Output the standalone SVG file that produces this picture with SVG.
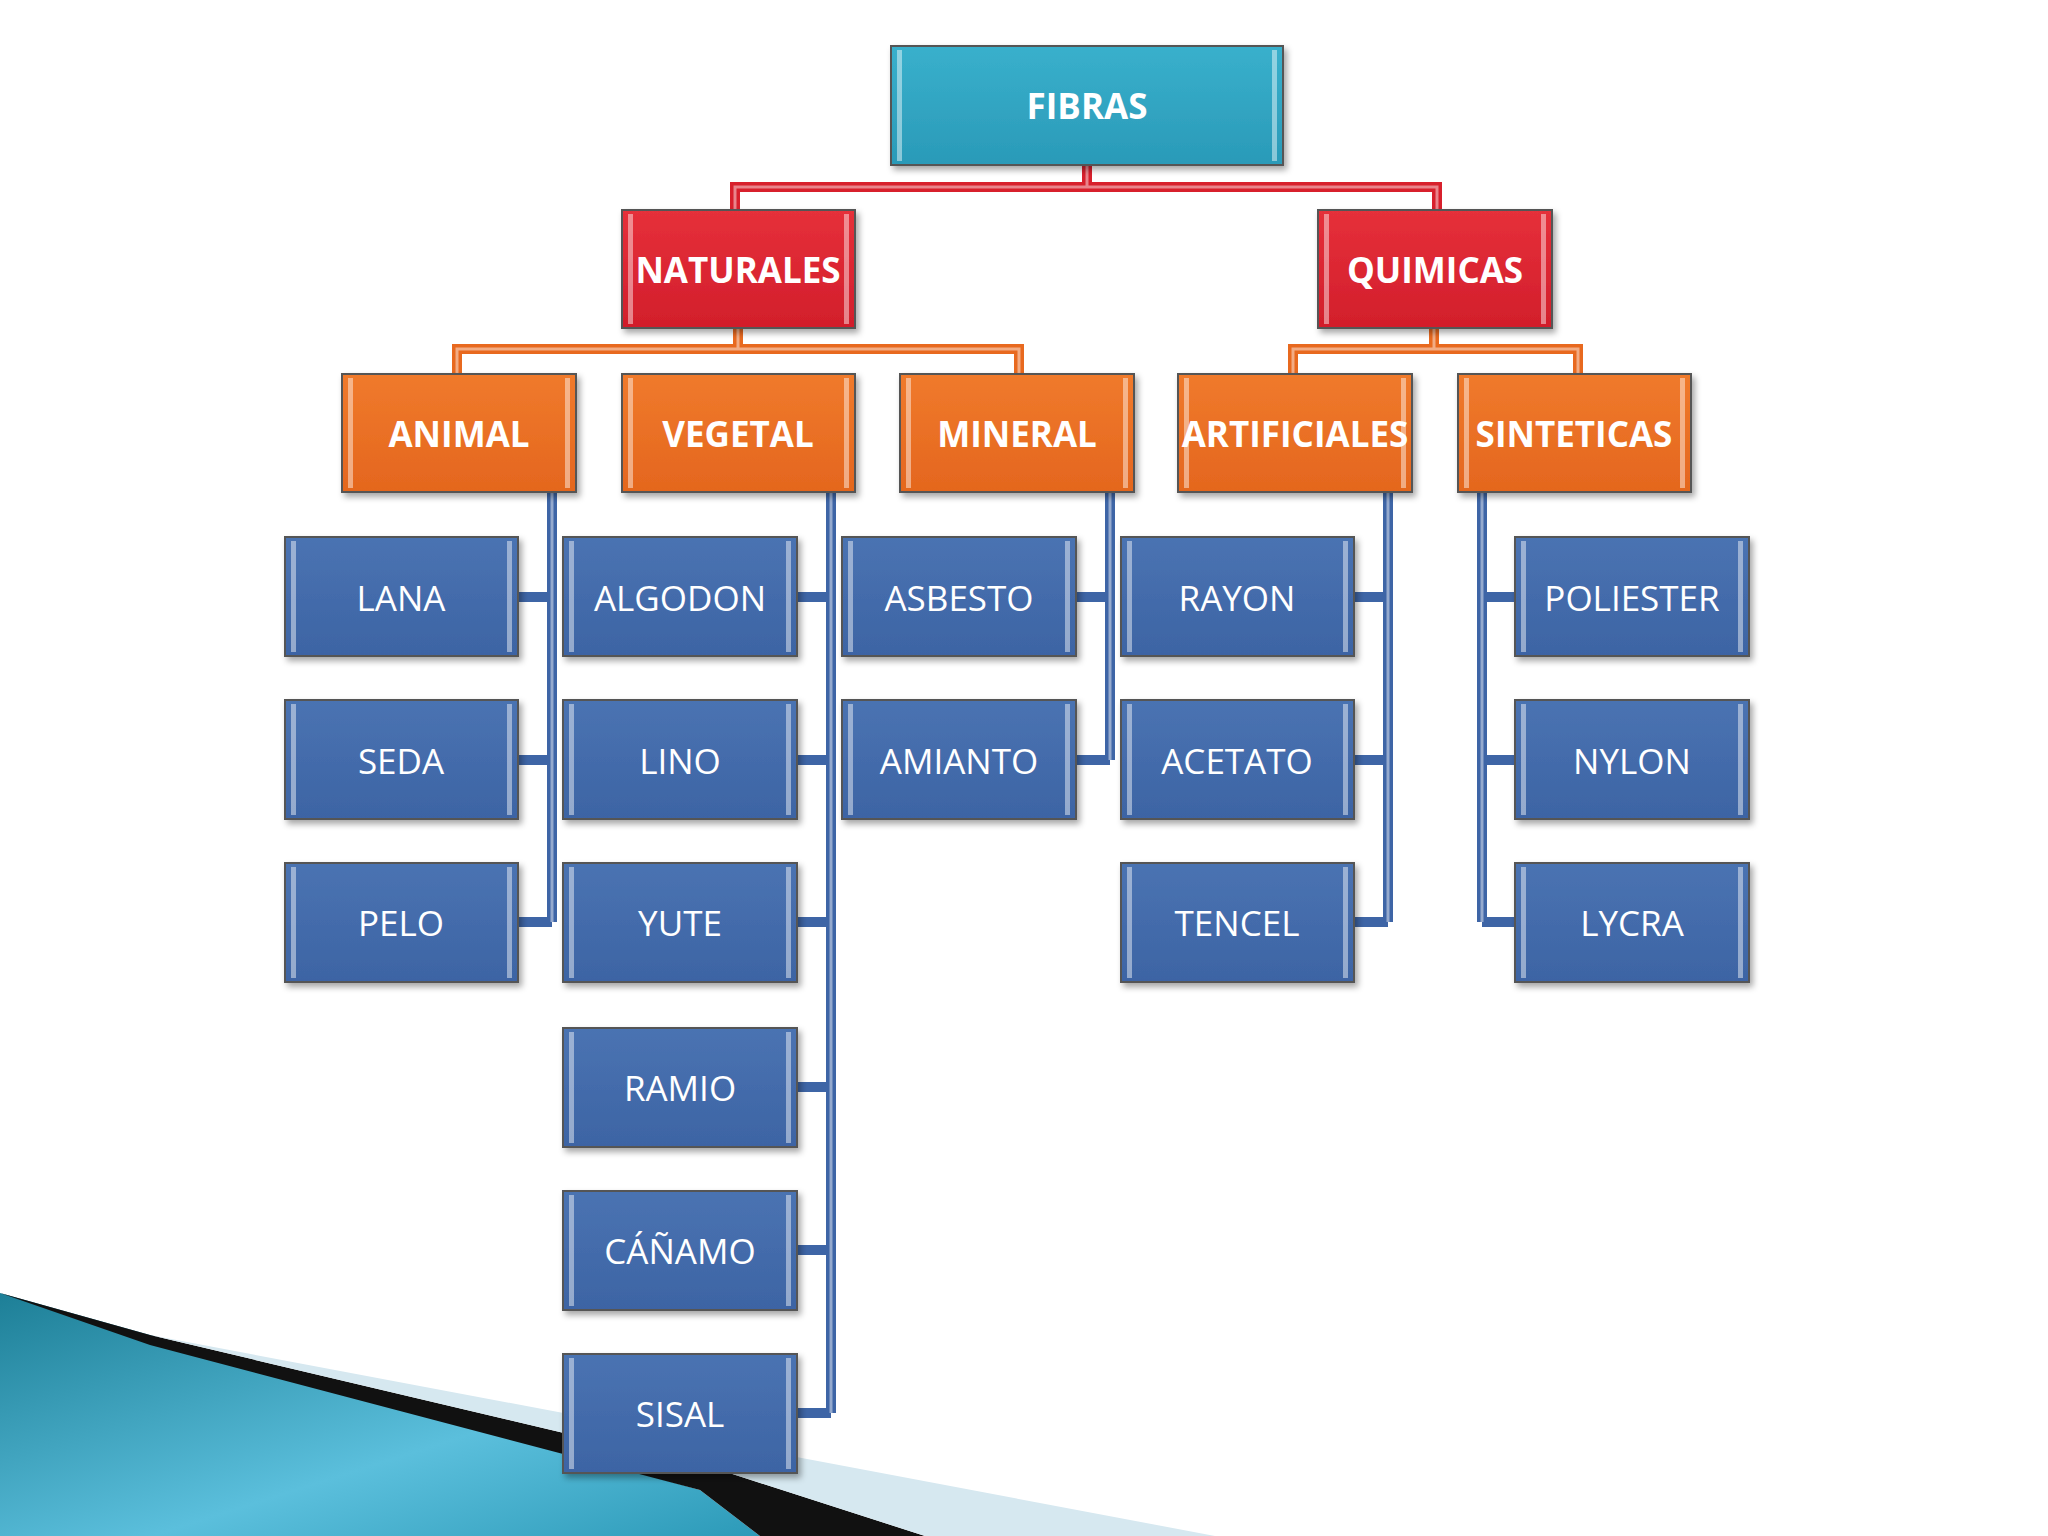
<svg xmlns="http://www.w3.org/2000/svg" width="2048" height="1536" viewBox="0 0 2048 1536">
<defs>
<linearGradient id="teal" x1="0" y1="0" x2="0" y2="1"><stop offset="0" stop-color="#39b0cc"/><stop offset="1" stop-color="#2a9ab8"/></linearGradient>
<linearGradient id="red" x1="0" y1="0" x2="0" y2="1"><stop offset="0" stop-color="#e6303a"/><stop offset="1" stop-color="#d21e2b"/></linearGradient>
<linearGradient id="orange" x1="0" y1="0" x2="0" y2="1"><stop offset="0" stop-color="#f07a2c"/><stop offset="1" stop-color="#e4661e"/></linearGradient>
<linearGradient id="blue" x1="0" y1="0" x2="0" y2="1"><stop offset="0" stop-color="#4a73b2"/><stop offset="1" stop-color="#3d64a4"/></linearGradient>
<linearGradient id="deco" x1="0" y1="0" x2="1" y2="1"><stop offset="0" stop-color="#1d7f97"/><stop offset="0.6" stop-color="#5bbfdc"/><stop offset="1" stop-color="#2c9ab8"/></linearGradient>
<filter id="sh" x="-10%" y="-10%" width="130%" height="130%"><feDropShadow dx="3" dy="4" stdDeviation="3" flood-color="#000" flood-opacity="0.35"/></filter>
</defs>
<style>
text{font-family:"Open Sans","Liberation Sans",sans-serif;font-size:35px;fill:#fff;text-anchor:middle;dominant-baseline:central}
.b{font-weight:bold}
.box{stroke:#555;stroke-width:2;filter:url(#sh)}
.hl{fill:#fff;opacity:0.45}
.cr{fill:none;stroke:#d8202c;stroke-width:10}
.co{fill:none;stroke:#e8691f;stroke-width:10}
.cb{fill:none;stroke:#3e65a6;stroke-width:10}
.in{fill:none;stroke:#fff;stroke-opacity:0.45;stroke-width:3}
</style>
<rect width="2048" height="1536" fill="#fff"/>
<g id="deco">
<polygon points="0,1293 150,1335 700,1490 760,1536 0,1536" fill="url(#deco)"/>
<polygon points="0,1293 150,1335 720,1470 925,1536 760,1536 700,1490 150,1345" fill="#111"/>
<polygon points="150,1335 1215,1536 925,1536 720,1470" fill="#d6e8f0"/>
</g>
<g id="connectors">
<path class="cr" d="M1087,165 V187 M735,210 V187 H1437 V210"/>
<path class="in" d="M1087,165 V187 M735,210 V187 H1437 V210"/>
<path class="co" d="M738,328 V349 M457,374 V349 H1019 V374 M1434,328 V349 M1293,374 V349 H1578 V374"/>
<path class="in" d="M738,328 V349 M457,374 V349 H1019 V374 M1434,328 V349 M1293,374 V349 H1578 V374"/>
<path class="cb" d="M552,492 V922 M518,597 H552 M518,760 H552 M518,922 H552
M831,492 V1413 M797,597 H831 M797,760 H831 M797,922 H831 M797,1087 H831 M797,1250 H831 M797,1413 H831
M1110,492 V760 M1076,597 H1110 M1076,760 H1110
M1388,492 V922 M1354,597 H1388 M1354,760 H1388 M1354,922 H1388
M1482,492 V922 M1482,597 H1515 M1482,760 H1515 M1482,922 H1515"/>
<path class="in" d="M552,492 V922 M831,492 V1413 M1110,492 V760 M1388,492 V922 M1482,492 V922"/>
</g>
<g id="fibras"><rect class="box" x="891" y="46" width="392" height="119" fill="url(#teal)"/><rect class="hl" x="897" y="50" width="5" height="111"/><rect class="hl" x="1272" y="50" width="5" height="111"/><text class="b" x="1087" y="105">FIBRAS</text></g>
<g id="naturales"><rect class="box" x="622" y="210" width="233" height="118" fill="url(#red)"/><rect class="hl" x="628" y="214" width="5" height="110"/><rect class="hl" x="844" y="214" width="5" height="110"/><text class="b" x="738" y="269">NATURALES</text></g>
<g id="quimicas"><rect class="box" x="1318" y="210" width="234" height="118" fill="url(#red)"/><rect class="hl" x="1324" y="214" width="5" height="110"/><rect class="hl" x="1541" y="214" width="5" height="110"/><text class="b" x="1435" y="269">QUIMICAS</text></g>
<g id="animal"><rect class="box" x="342" y="374" width="234" height="118" fill="url(#orange)"/><rect class="hl" x="348" y="378" width="5" height="110"/><rect class="hl" x="565" y="378" width="5" height="110"/><text class="b" x="459" y="433">ANIMAL</text></g>
<g id="vegetal"><rect class="box" x="622" y="374" width="233" height="118" fill="url(#orange)"/><rect class="hl" x="628" y="378" width="5" height="110"/><rect class="hl" x="844" y="378" width="5" height="110"/><text class="b" x="738" y="433">VEGETAL</text></g>
<g id="mineral"><rect class="box" x="900" y="374" width="234" height="118" fill="url(#orange)"/><rect class="hl" x="906" y="378" width="5" height="110"/><rect class="hl" x="1123" y="378" width="5" height="110"/><text class="b" x="1017" y="433">MINERAL</text></g>
<g id="artificiales"><rect class="box" x="1178" y="374" width="234" height="118" fill="url(#orange)"/><rect class="hl" x="1184" y="378" width="5" height="110"/><rect class="hl" x="1401" y="378" width="5" height="110"/><text class="b" x="1295" y="433">ARTIFICIALES</text></g>
<g id="sinteticas"><rect class="box" x="1458" y="374" width="233" height="118" fill="url(#orange)"/><rect class="hl" x="1464" y="378" width="5" height="110"/><rect class="hl" x="1680" y="378" width="5" height="110"/><text class="b" x="1574" y="433">SINTETICAS</text></g>
<g id="lana"><rect class="box" x="285" y="537" width="233" height="119" fill="url(#blue)"/><rect class="hl" x="291" y="541" width="5" height="111"/><rect class="hl" x="507" y="541" width="5" height="111"/><text x="401" y="597">LANA</text></g>
<g id="seda"><rect class="box" x="285" y="700" width="233" height="119" fill="url(#blue)"/><rect class="hl" x="291" y="704" width="5" height="111"/><rect class="hl" x="507" y="704" width="5" height="111"/><text x="401" y="760">SEDA</text></g>
<g id="pelo"><rect class="box" x="285" y="863" width="233" height="119" fill="url(#blue)"/><rect class="hl" x="291" y="867" width="5" height="111"/><rect class="hl" x="507" y="867" width="5" height="111"/><text x="401" y="922">PELO</text></g>
<g id="algodon"><rect class="box" x="563" y="537" width="234" height="119" fill="url(#blue)"/><rect class="hl" x="569" y="541" width="5" height="111"/><rect class="hl" x="786" y="541" width="5" height="111"/><text x="680" y="597">ALGODON</text></g>
<g id="lino"><rect class="box" x="563" y="700" width="234" height="119" fill="url(#blue)"/><rect class="hl" x="569" y="704" width="5" height="111"/><rect class="hl" x="786" y="704" width="5" height="111"/><text x="680" y="760">LINO</text></g>
<g id="yute"><rect class="box" x="563" y="863" width="234" height="119" fill="url(#blue)"/><rect class="hl" x="569" y="867" width="5" height="111"/><rect class="hl" x="786" y="867" width="5" height="111"/><text x="680" y="922">YUTE</text></g>
<g id="ramio"><rect class="box" x="563" y="1028" width="234" height="119" fill="url(#blue)"/><rect class="hl" x="569" y="1032" width="5" height="111"/><rect class="hl" x="786" y="1032" width="5" height="111"/><text x="680" y="1087">RAMIO</text></g>
<g id="canamo"><rect class="box" x="563" y="1191" width="234" height="119" fill="url(#blue)"/><rect class="hl" x="569" y="1195" width="5" height="111"/><rect class="hl" x="786" y="1195" width="5" height="111"/><text x="680" y="1250">CÁÑAMO</text></g>
<g id="sisal"><rect class="box" x="563" y="1354" width="234" height="119" fill="url(#blue)"/><rect class="hl" x="569" y="1358" width="5" height="111"/><rect class="hl" x="786" y="1358" width="5" height="111"/><text x="680" y="1413">SISAL</text></g>
<g id="asbesto"><rect class="box" x="842" y="537" width="234" height="119" fill="url(#blue)"/><rect class="hl" x="848" y="541" width="5" height="111"/><rect class="hl" x="1065" y="541" width="5" height="111"/><text x="959" y="597">ASBESTO</text></g>
<g id="amianto"><rect class="box" x="842" y="700" width="234" height="119" fill="url(#blue)"/><rect class="hl" x="848" y="704" width="5" height="111"/><rect class="hl" x="1065" y="704" width="5" height="111"/><text x="959" y="760">AMIANTO</text></g>
<g id="rayon"><rect class="box" x="1121" y="537" width="233" height="119" fill="url(#blue)"/><rect class="hl" x="1127" y="541" width="5" height="111"/><rect class="hl" x="1343" y="541" width="5" height="111"/><text x="1237" y="597">RAYON</text></g>
<g id="acetato"><rect class="box" x="1121" y="700" width="233" height="119" fill="url(#blue)"/><rect class="hl" x="1127" y="704" width="5" height="111"/><rect class="hl" x="1343" y="704" width="5" height="111"/><text x="1237" y="760">ACETATO</text></g>
<g id="tencel"><rect class="box" x="1121" y="863" width="233" height="119" fill="url(#blue)"/><rect class="hl" x="1127" y="867" width="5" height="111"/><rect class="hl" x="1343" y="867" width="5" height="111"/><text x="1237" y="922">TENCEL</text></g>
<g id="poliester"><rect class="box" x="1515" y="537" width="234" height="119" fill="url(#blue)"/><rect class="hl" x="1521" y="541" width="5" height="111"/><rect class="hl" x="1738" y="541" width="5" height="111"/><text x="1632" y="597">POLIESTER</text></g>
<g id="nylon"><rect class="box" x="1515" y="700" width="234" height="119" fill="url(#blue)"/><rect class="hl" x="1521" y="704" width="5" height="111"/><rect class="hl" x="1738" y="704" width="5" height="111"/><text x="1632" y="760">NYLON</text></g>
<g id="lycra"><rect class="box" x="1515" y="863" width="234" height="119" fill="url(#blue)"/><rect class="hl" x="1521" y="867" width="5" height="111"/><rect class="hl" x="1738" y="867" width="5" height="111"/><text x="1632" y="922">LYCRA</text></g>
</svg>
